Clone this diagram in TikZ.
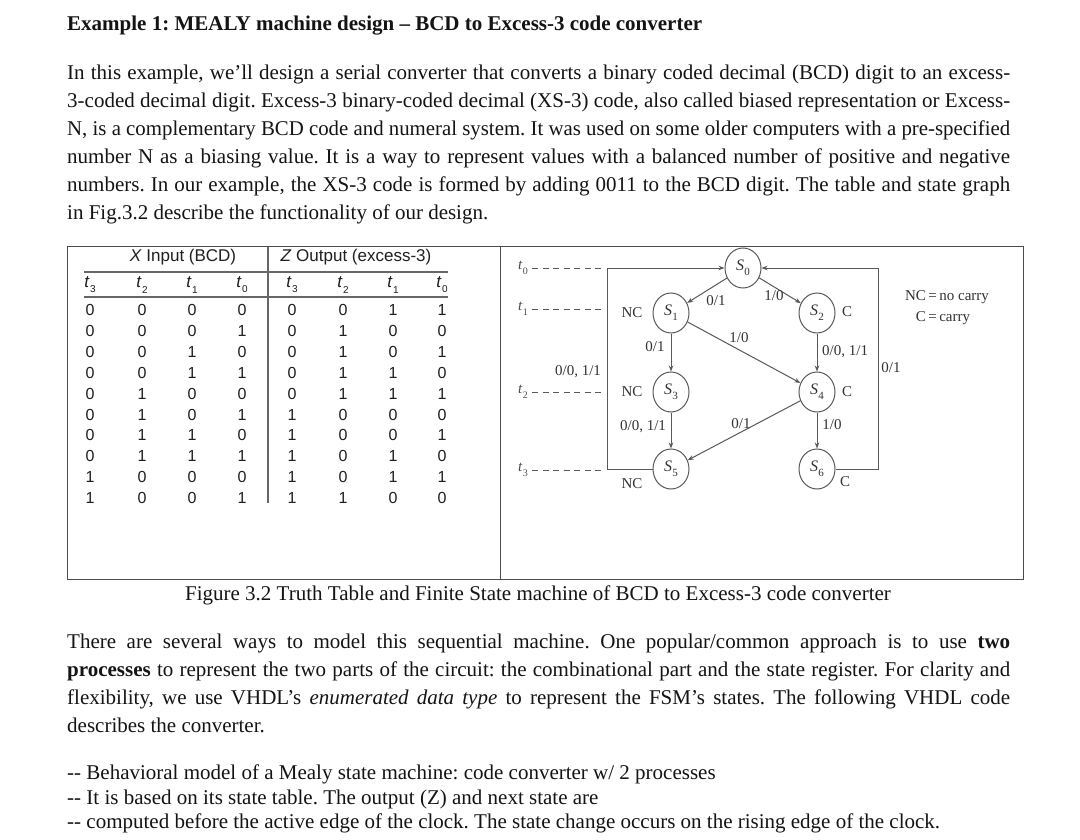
\documentclass[tikz,border=0pt]{standalone}
\usepackage{fontspec}
\usepackage{graphicx}
\setmainfont{Liberation Serif}
\newfontfamily\tabfont{Liberation Sans}
\usetikzlibrary{arrows.meta,shapes.geometric}
\frenchspacing
\newlength\jlen
\newcommand{\jline}[1]{\settowidth\jlen{#1}\ifdim\jlen>943pt\resizebox{943pt}{\height}{#1}\else\makebox[943pt][s]{#1}\fi}
\newcommand{\tsb}[1]{\textit{t}\kern0.3pt\raisebox{-0.3em}{\fontsize{10}{10}\selectfont #1}}
\newcommand{\dtsb}[1]{\textit{t}\kern0.3pt\raisebox{-0.3em}{\fontsize{10}{10}\selectfont #1}}
\newcommand{\ssb}[1]{\textit{S}\kern0.3pt\raisebox{-0.3em}{\fontsize{11}{11}\selectfont #1}}
\begin{document}
\begin{tikzpicture}[x=1pt,y=-1pt,
  body/.style={anchor=base west, inner sep=0, text=black!92, font=\fontsize{21}{24}\selectfont},
  vhdl/.style={anchor=base west, inner sep=0, text=black!92, font=\fontsize{21}{23}\selectfont},
  tab/.style={inner sep=0, text=black!88, font=\tabfont\fontsize{16}{16}\selectfont},
  tabhead/.style={inner sep=0, text=black!88, font=\tabfont\fontsize{17}{18}\selectfont},
  tabline/.style={draw=black!60, line width=1.3pt},
  st/.style={ellipse, draw=black!65, line width=1pt, minimum width=36pt, minimum height=40pt, inner sep=0, text=black!80, font=\fontsize{16}{16}\selectfont},
  conn/.style={draw=black!65, line width=1pt, -{Stealth[length=6pt,width=4.5pt]}},
  lbl/.style={inner sep=0, text=black!80, font=\fontsize{15}{15}\selectfont},
  tlab/.style={inner sep=0, text=black!70, font=\fontsize{15}{15}\selectfont},
  dsh/.style={draw=black!65, line width=1pt, dash pattern=on 6pt off 4.5pt},
  frame/.style={draw=black!70, line width=1pt}]
\useasboundingbox[fill=white] (0,0) rectangle (1080,840);

% ---------- heading and first paragraph ----------
\node[body] (head) at (67,31) {\textbf{Example 1: MEALY machine design – BCD to Excess-3 code converter}};
\node[body] (p1) at (67,80) {\jline{In this example, we’ll design a serial converter that converts a binary coded decimal (BCD) digit to an excess-}};
\node[body] (p2) at (67,108) {\jline{3-coded decimal digit. Excess-3 binary-coded decimal (XS-3) code, also called biased representation or Excess-}};
\node[body] (p3) at (67,136) {\jline{N, is a complementary BCD code and numeral system. It was used on some older computers with a pre-specified}};
\node[body] (p4) at (67,164) {\jline{number N as a biasing value. It is a way to represent values with a balanced number of positive and negative}};
\node[body] (p5) at (67,192) {\jline{numbers. In our example, the XS-3 code is formed by adding 0011 to the BCD digit. The table and state graph}};
\node[body] (p6) at (67,220) {in Fig.3.2 describe the functionality of our design.};

% ---------- figure frame ----------
\draw[frame] (67,246) rectangle (1023,579);
\draw[frame] (500,246) -- (500,579);

% ---------- truth table ----------
\node[tabhead] (xin) at (183,257) {\textit{X} Input (BCD)};
\node[tabhead] (zout) at (356,257) {\textit{Z} Output (excess-3)};
\draw[tabline] (84,272) -- (448,272);
\draw[tabline] (84,297) -- (448,297);
\draw[tabline] (268,247) -- (268,503);
\foreach \xx/\nm/\s in {90/ha/3,142/hb/2,192/hc/1,242/hd/0,292/he/3,343/hf/2,393/hg/1,442/hh/0}
  \node[tabhead] (\nm) at (\xx,285) {\tsb{\s}};
\foreach \a/\b/\c/\d/\e/\f/\g/\h [count=\i from 0] in
  {0/0/0/0/0/0/1/1, 0/0/0/1/0/1/0/0, 0/0/1/0/0/1/0/1, 0/0/1/1/0/1/1/0, 0/1/0/0/0/1/1/1,
   0/1/0/1/1/0/0/0, 0/1/1/0/1/0/0/1, 0/1/1/1/1/0/1/0, 1/0/0/0/1/0/1/1, 1/0/0/1/1/1/0/0}{
  \pgfmathsetmacro\yy{310+20.9*\i}
  \node[tab] (ra\i) at (90,\yy) {\a};
  \node[tab] (rb\i) at (142,\yy) {\b};
  \node[tab] (rc\i) at (192,\yy) {\c};
  \node[tab] (rd\i) at (242,\yy) {\d};
  \node[tab] (re\i) at (292,\yy) {\e};
  \node[tab] (rf\i) at (343,\yy) {\f};
  \node[tab] (rg\i) at (393,\yy) {\g};
  \node[tab] (rh\i) at (442,\yy) {\h};
}

% ---------- state machine ----------
\node[tlab] (t0) at (523,268) {\dtsb{0}};
\node[tlab] (t1) at (523,309) {\dtsb{1}};
\node[tlab] (t2) at (523,392) {\dtsb{2}};
\node[tlab] (t3) at (523,470) {\dtsb{3}};
\coordinate (d0) at (601,268);
\coordinate (d1) at (601,309);
\coordinate (d2) at (601,392);
\coordinate (d3) at (603,470);
\draw[dsh] ([xshift=4pt]t0.east) -- (d0);
\draw[dsh] ([xshift=4pt]t1.east) -- (d1);
\draw[dsh] ([xshift=4pt]t2.east) -- (d2);
\draw[dsh] ([xshift=4pt]t3.east) -- (d3);

\node[st] (S0) at (743,268) {\ssb{0}};
\node[st] (S1) at (671,313) {\ssb{1}};
\node[st] (S2) at (817,313) {\ssb{2}};
\node[st] (S3) at (671,392) {\ssb{3}};
\node[st] (S4) at (817,392) {\ssb{4}};
\node[st] (S5) at (671,469) {\ssb{5}};
\node[st] (S6) at (817,469) {\ssb{6}};

\coordinate (cTL) at (607,268);
\coordinate (cTR) at (878,268);

\draw[conn] (S0) -- (S1);
\draw[conn] (S0) -- (S2);
\draw[conn] (S1) -- (S3);
\draw[conn] (S1) -- (S4);
\draw[conn] (S2) -- (S4);
\draw[conn] (S3) -- (S5);
\draw[conn] (S4) -- (S5);
\draw[conn] (S4) -- (S6);
\draw[conn] (S5.west) -| (cTL) -- (S0.west);
\draw[conn] (S6.east) -| (cTR) -- (S0.east);

\node[lbl] (l01) at (716,301) {0/1};
\node[lbl] (l02) at (774,296) {1/0};
\node[lbl] (l13) at (655,347) {0/1};
\node[lbl] (l14) at (739,338) {1/0};
\node[lbl, anchor=west] (l24) at (822,352) {0/0, 1/1};
\node[lbl] (l35) at (643,427) {0/0, 1/1};
\node[lbl] (l45) at (741,424) {0/1};
\node[lbl] (l46) at (832,425) {1/0};
\node[lbl] (l50) at (578,372) {0/0, 1/1};
\node[lbl] (l60) at (891,368) {0/1};

\node[lbl] (nc1) at (632,313) {NC};
\node[lbl] (nc3) at (632,392) {NC};
\node[lbl] (nc5) at (632,484) {NC};
\node[lbl] (c2) at (847,312) {C};
\node[lbl] (c4) at (847,392) {C};
\node[lbl] (c6) at (845,482) {C};
\node[lbl] (key1) at (947,297) {NC\,=\,no carry};
\node[lbl] (key2) at (943,318) {C\,=\,carry};

% ---------- caption and following text ----------
\node[body, anchor=base] (cap) at (538,600) {Figure 3.2 Truth Table and Finite State machine of BCD to Excess-3 code converter};
\node[body] (q1) at (67,648) {\jline{There are several ways to model this sequential machine. One popular/common approach is to use \textbf{two}}};
\node[body] (q2) at (67,676) {\jline{\textbf{processes} to represent the two parts of the circuit: the combinational part and the state register. For clarity and}};
\node[body] (q3) at (67,704) {\jline{flexibility, we use VHDL’s \textit{enumerated data type} to represent the FSM’s states. The following VHDL code}};
\node[body] (q4) at (67,732) {describes the converter.};
\node[vhdl] (v1) at (67,779) {-{}- Behavioral model of a Mealy state machine: code converter w/ 2 processes};
\node[vhdl] (v2) at (67,804) {-{}- It is based on its state table. The output (Z) and next state are};
\node[vhdl] (v3) at (67,828) {-{}- computed before the active edge of the clock. The state change occurs on the rising edge of the clock.};
\end{tikzpicture}
\end{document}
